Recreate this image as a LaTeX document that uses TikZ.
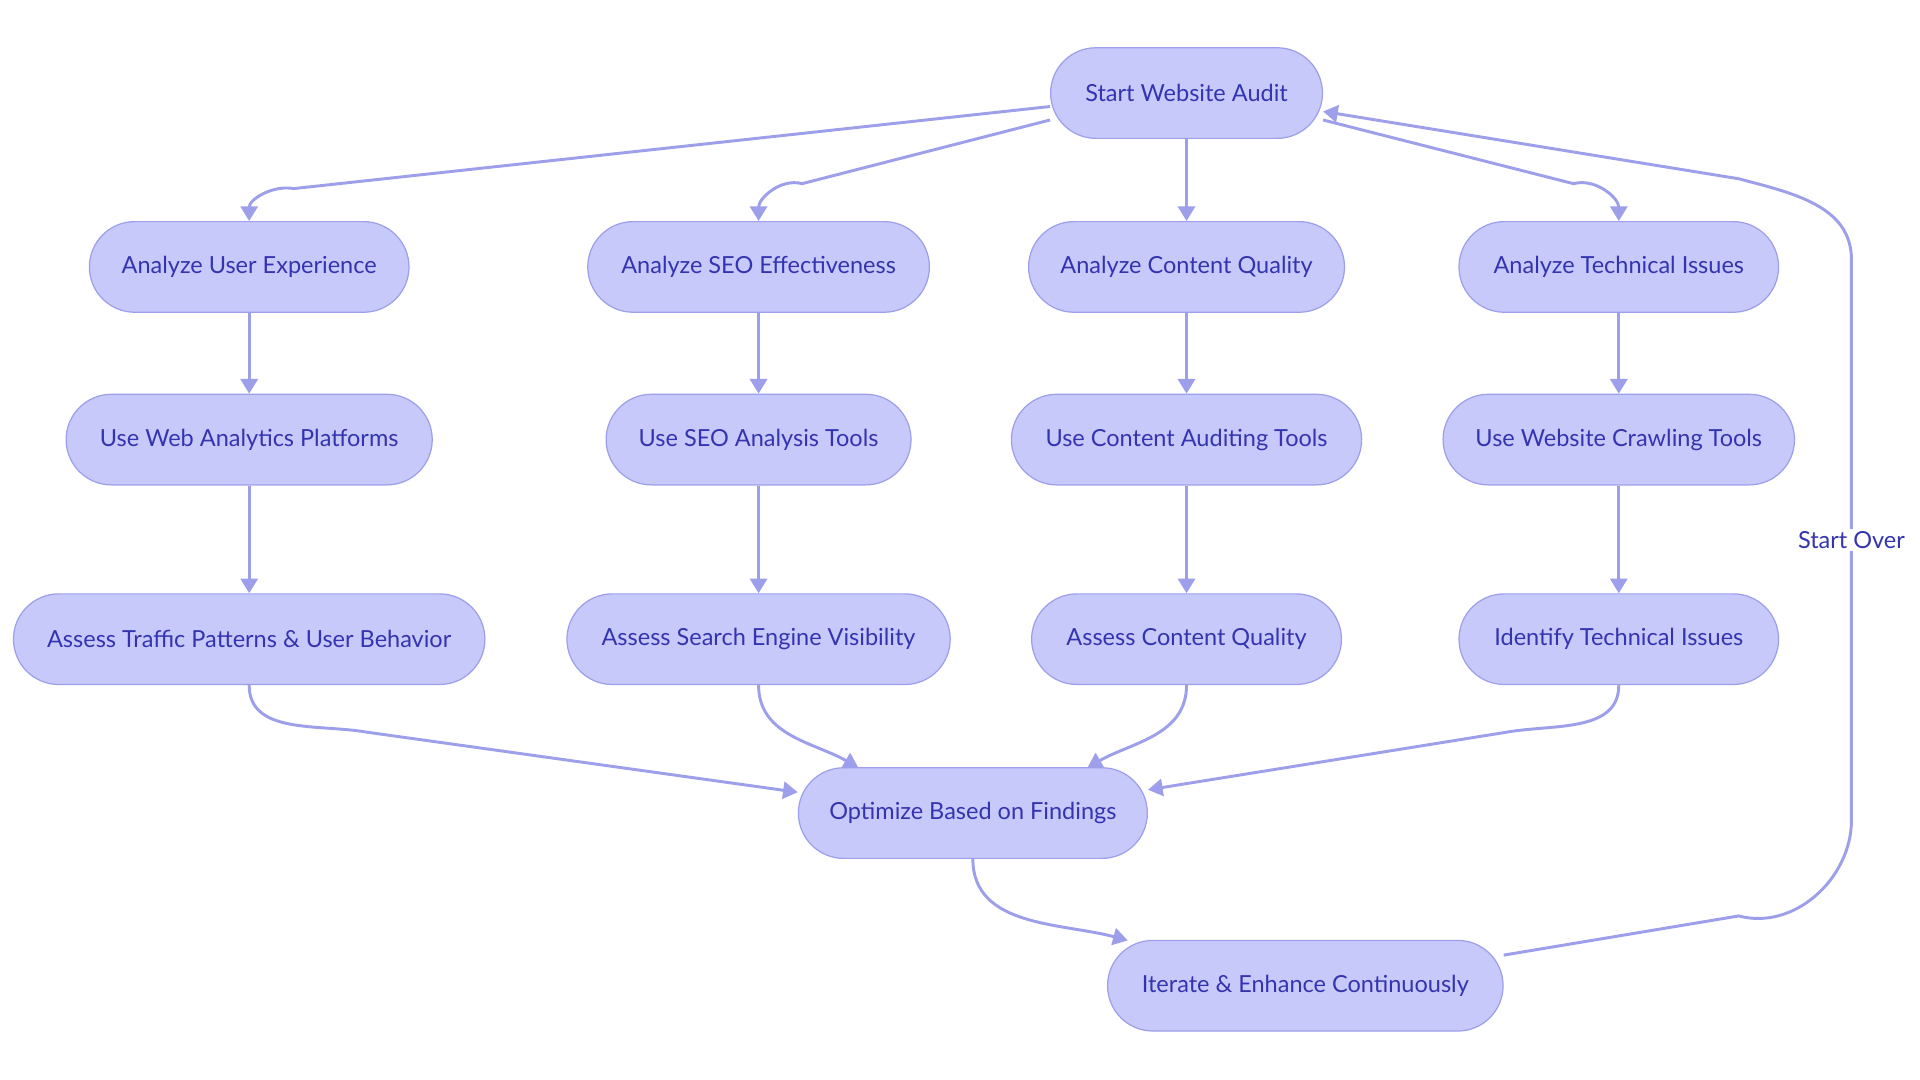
\documentclass[tikz,border=0pt]{standalone}
\usepackage{fontspec}
\setmainfont{Lato}
\usetikzlibrary{arrows.meta}
\definecolor{nfill}{HTML}{C8C9FB}
\definecolor{nline}{HTML}{9D9FEA}
\definecolor{ntext}{HTML}{3434B0}
\begin{document}
\begin{tikzpicture}[x=0.5pt,y=-0.5pt,
 box/.style={draw=nline,fill=nfill,line width=0.5pt,rounded corners=18.5pt,minimum height=37pt,text=ntext,font=\fontsize{9.6}{11}\selectfont,inner sep=0pt},
 e/.style={draw=nline,line width=1.2pt,-{Triangle[length=6pt,width=7pt]}}]
\useasboundingbox (0,0) rectangle (1568,882);
\node[box,minimum width=111pt] (S) at (969,76) {Start Website Audit};
\node[box,minimum width=130.5pt] (A1) at (203.5,218) {Analyze User Experience};
\node[box,minimum width=139.5pt] (B1) at (619.5,218) {Analyze SEO Effectiveness};
\node[box,minimum width=129pt] (C1) at (969,218) {Analyze Content Quality};
\node[box,minimum width=130.5pt] (D1) at (1322,218) {Analyze Technical Issues};
\node[box,minimum width=149.5pt] (A2) at (203.5,359) {Use Web Analytics Platforms};
\node[box,minimum width=124.5pt] (B2) at (619.5,359) {Use SEO Analysis Tools};
\node[box,minimum width=143pt] (C2) at (969,359) {Use Content Auditing Tools};
\node[box,minimum width=143.5pt] (D2) at (1322,359) {Use Website Crawling Tools};
\node[box,minimum width=192.5pt] (A3) at (203.5,522) {Assess Traffic Patterns \& User Behavior};
\node[box,minimum width=156.5pt] (B3) at (619.5,522) {Assess Search Engine Visibility};
\node[box,minimum width=126.5pt] (C3) at (969,522) {Assess Content Quality};
\node[box,minimum width=130.5pt] (D3) at (1322,522) {Identify Technical Issues};
\node[box,minimum width=142.5pt] (O) at (794.5,664) {Optimize Based on Findings};
\node[box,minimum width=161.5pt] (I) at (1066,805) {Iterate \& Enhance Continuously};
\draw[e] (S.west|-0,87) -- (240,154) to[out=170,in=90] (A1.north);
\draw[e] (S.west|-0,98) -- (655,150) to[out=165,in=90] (B1.north);
\draw[e] (S) -- (C1);
\draw[e] (S.east|-0,98) -- (1285,150) to[out=15,in=90] (D1.north);
\foreach \c in {A,B,C,D}{\draw[e] (\c1) -- (\c2); \draw[e] (\c2) -- (\c3);}
\draw[e] (A3.south) to[out=-90,in=170] (300,598) -- (O.west|-0,647);
\draw[e] (B3.south) to[out=-90,in=150] (701,627);
\draw[e] (C3.south) to[out=-90,in=30] (888,627);
\draw[e] (D3.south) to[out=-90,in=10] (1230,598) -- (O.east|-0,645);
\draw[e] (O.south) to[out=-90,in=165] (921,768);
\draw[e] (I.east|-0,780) -- (1420,748) to[out=-15,in=-90] (1512,670) -- (1512,212) to[out=90,in=-15] (1420,146) -- (S.east|-0,91);
\node[fill=white,text=ntext,font=\fontsize{9.6}{11}\selectfont,inner sep=1pt] (L) at (1512,441) {Start Over};
\end{tikzpicture}
\end{document}
